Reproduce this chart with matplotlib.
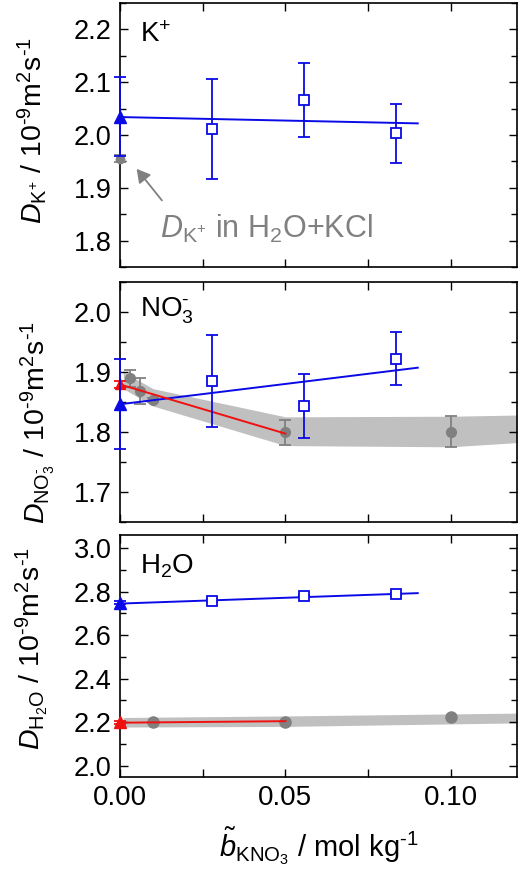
import matplotlib
matplotlib.use('Agg')
import matplotlib.pyplot as plt
from matplotlib.ticker import MultipleLocator, FuncFormatter

plt.rcParams['font.family'] = ['Liberation Sans', 'DejaVu Sans']
plt.rcParams['mathtext.fontset'] = 'custom'
plt.rcParams['mathtext.rm'] = 'Liberation Sans'
plt.rcParams['mathtext.it'] = 'Liberation Sans:italic'
plt.rcParams['mathtext.bf'] = 'Liberation Sans:bold'

BLUE = '#0a0ae6'
RED = '#f01010'
GRAY = '#808080'
BAND = '#c0c0c0'
HY = '\u2010'  # hyphen for superscripts, as in the original

# concentrations of the blue (mixture) series
x_blue = [0.0278, 0.0556, 0.0833]
x_fit = [0.0, 0.09]

# K+ panel
k_blue = [2.011, 2.067, 2.003]
k_blue_err = [0.095, 0.070, 0.056]
k_tri, k_tri_err = 2.035, 0.075
k_fit = [2.034, 2.022]
k_gray, k_gray_err = 1.955, 0.007

# NO3- panel
no3_blue = [1.885, 1.843, 1.922]
no3_blue_err = [0.077, 0.053, 0.044]
no3_tri, no3_tri_err = 1.846, 0.075
no3_fit = [1.846, 1.907]
no3_red, no3_red_err = 1.879, 0.006
no3_red_fit_x = [0.0, 0.05]
no3_red_fit = [1.879, 1.797]
no3_gray_x = [0.003, 0.006, 0.010, 0.050, 0.100]
no3_gray = [1.889, 1.868, 1.853, 1.799, 1.800]
no3_gray_err = [0.014, 0.021, 0.004, 0.021, 0.026]
no3_band_x = [0.001, 0.010, 0.050, 0.100, 0.120]
no3_band_hi = [1.900, 1.872, 1.825, 1.826, 1.828]
no3_band_lo = [1.872, 1.843, 1.777, 1.775, 1.782]

# H2O panel
h2o_blue = [2.759, 2.780, 2.789]
h2o_blue_err = [0.006, 0.006, 0.006]
h2o_tri, h2o_tri_err = 2.749, 0.008
h2o_fit = [2.745, 2.793]
h2o_red, h2o_red_err = 2.200, 0.008
h2o_red_fit_x = [0.0, 0.05]
h2o_red_fit = [2.198, 2.205]
h2o_gray_x = [0.010, 0.050, 0.100]
h2o_gray = [2.200, 2.203, 2.223]
h2o_band_x = [0.001, 0.050, 0.120]
h2o_band_hi = [2.222, 2.229, 2.242]
h2o_band_lo = [2.178, 2.181, 2.197]

fig = plt.figure(figsize=(5.2, 8.74), dpi=100)
W, H = 520, 874


def make_ax(top, bottom):
    return fig.add_axes([120 / W, 1 - bottom / H, 397 / W, (bottom - top) / H])


ax1 = make_ax(3, 267)
ax2 = make_ax(282, 521.7)
ax3 = make_ax(535, 776.7)

eb = dict(capsize=4, elinewidth=1.3, capthick=1.3, linestyle='none')
fmt1 = FuncFormatter(lambda v, p: f'{v:.1f}')
units = rf' / 10$^{{{HY}9}}$m$^2$s$^{{{HY}1}}$'


def blue_series(ax, vals, errs, tri, tri_err, fit):
    ax.plot(x_fit, fit, color=BLUE, lw=1.4, zorder=4)
    ax.errorbar(x_blue, vals, yerr=errs, fmt='s', mfc='white', mec=BLUE, mew=1.3,
                ms=6.5, color=BLUE, zorder=5, **eb)
    ax.errorbar([0.0], [tri], yerr=[tri_err], fmt='^', color=BLUE, ms=8,
                zorder=6, clip_on=False, **eb)


# --- K+ ---
ax1.errorbar([0.0], [k_gray], yerr=[k_gray_err], fmt='o', color=GRAY, ms=6,
             zorder=3, clip_on=False, **eb)
blue_series(ax1, k_blue, k_blue_err, k_tri, k_tri_err, k_fit)
ax1.annotate('', xy=(0.0045, 1.940), xytext=(0.0132, 1.872),
             arrowprops=dict(arrowstyle='-|>,head_length=0.8,head_width=0.45',
                             color=GRAY, lw=1.3))
ax1.text(0.0120, 1.822, r'$D_{\mathrm{K}^{+}}$ in H$_2$O+KCl', color=GRAY,
         fontsize=22, ha='left', va='center')
ax1.set_ylim(1.75, 2.25)
ax1.yaxis.set_major_locator(MultipleLocator(0.1))
ax1.yaxis.set_minor_locator(MultipleLocator(0.05))
ax1.text(0.05, 0.88, r'K$^{+}$', transform=ax1.transAxes, fontsize=20, va='center')
ax1.set_ylabel(r'$D_{\mathrm{K}^{+}}$' + units, fontsize=20.5)
ax1.yaxis.set_label_coords(-0.179, 0.515)

# --- NO3- ---
ax2.fill_between(no3_band_x, no3_band_lo, no3_band_hi, color=BAND, lw=0, zorder=1)
ax2.errorbar(no3_gray_x, no3_gray, yerr=no3_gray_err, fmt='o', color=GRAY, ms=7,
             zorder=2, **eb)
blue_series(ax2, no3_blue, no3_blue_err, no3_tri, no3_tri_err, no3_fit)
ax2.plot(no3_red_fit_x, no3_red_fit, color=RED, lw=1.4, zorder=4)
ax2.errorbar([0.0], [no3_red], yerr=[no3_red_err], fmt='^', color=RED, ms=7,
             zorder=5, clip_on=False, **eb)
ax2.set_ylim(1.65, 2.05)
ax2.yaxis.set_major_locator(MultipleLocator(0.1))
ax2.yaxis.set_minor_locator(MultipleLocator(0.05))
ax2.text(0.05, 0.88, rf'NO$_3^{{{HY}}}$', transform=ax2.transAxes, fontsize=20,
         va='center')
ax2.set_ylabel(rf'$D_{{\mathrm{{NO}}_3^{{{HY}}}}}$' + units, fontsize=20.5)
ax2.yaxis.set_label_coords(-0.159, 0.416)

# --- H2O ---
ax3.fill_between(h2o_band_x, h2o_band_lo, h2o_band_hi, color=BAND, lw=0, zorder=1)
ax3.plot(h2o_gray_x, h2o_gray, 'o', color=GRAY, ms=8, zorder=2)
blue_series(ax3, h2o_blue, h2o_blue_err, h2o_tri, h2o_tri_err, h2o_fit)
ax3.plot(h2o_red_fit_x, h2o_red_fit, color=RED, lw=1.4, zorder=4)
ax3.errorbar([0.0], [h2o_red], yerr=[h2o_red_err], fmt='^', color=RED, ms=8,
             zorder=5, clip_on=False, **eb)
ax3.set_ylim(1.95, 3.06)
ax3.yaxis.set_major_locator(MultipleLocator(0.2))
ax3.yaxis.set_minor_locator(MultipleLocator(0.1))
ax3.text(0.05, 0.87, r'H$_2$O', transform=ax3.transAxes, fontsize=20, va='center')
ax3.set_ylabel(r'$D_{\mathrm{H_2O}}$' + units, fontsize=20.5)
ax3.yaxis.set_label_coords(-0.176, 0.532)
ax3.set_xlabel(rf'$\tilde{{b}}_{{\mathrm{{KNO_3}}}}$ / mol kg$^{{{HY}1}}$',
               fontsize=21, labelpad=10)

for ax in (ax1, ax2, ax3):
    ax.set_xlim(0.0, 0.12)
    ax.xaxis.set_major_locator(MultipleLocator(0.05))
    ax.xaxis.set_minor_locator(MultipleLocator(0.025))
    ax.yaxis.set_major_formatter(fmt1)
    ax.tick_params(which='both', direction='in', top=True, right=True, width=1.0)
    ax.tick_params(which='major', length=6, labelsize=19.5, pad=6)
    ax.tick_params(which='minor', length=4)
    ax.tick_params(axis='x', which='minor', length=6)
    for s in ax.spines.values():
        s.set_linewidth(1.2)
for ax in (ax1, ax2):
    ax.tick_params(axis='x', labelbottom=False)
ax3.xaxis.set_major_formatter(FuncFormatter(lambda v, p: f'{v:.2f}'))
ax3.tick_params(axis='x', labelsize=20, pad=6)

fig.savefig('out.png', dpi=100)
